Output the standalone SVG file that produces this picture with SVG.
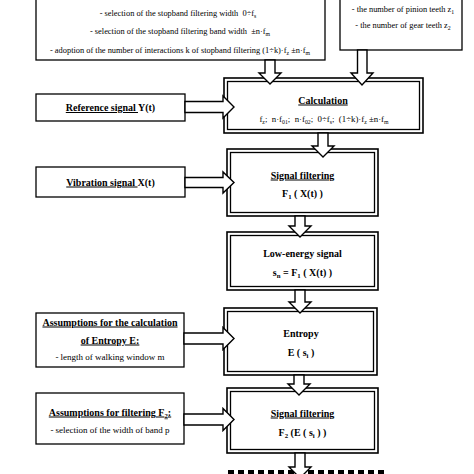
<svg xmlns="http://www.w3.org/2000/svg" width="474" height="474" viewBox="0 0 474 474">
<style>
  text { font-family: "Liberation Serif", "Times New Roman", serif; fill: #000; text-anchor: middle; }
  .b { font-weight: bold; font-size: 10px; }
  .r { font-size: 8.4px; }
  .r2 { font-size: 9px; }
  .f { font-size: 8.8px; }
  .u { text-decoration: underline; }
  .box { fill: #fff; stroke: #000; stroke-width: 1.3; }
  .outer { fill: #fff; stroke: #000; stroke-width: 1.6; }
  .inner { fill: none; stroke: #000; stroke-width: 1.3; }
  .arr { fill: #fff; stroke: #000; stroke-width: 1.4; stroke-linejoin: miter; }
  .dash { fill: none; stroke: #000; stroke-width: 4; stroke-dasharray: 6 4; }
  .s { font-size: 5.8px; }
  .sb { font-size: 6.8px; }
</style>
<rect x="0" y="0" width="474" height="474" fill="#fff"/>

<g id="assumptions-stopband">
  <rect class="box" x="36" y="-5" width="289" height="65"/>
  <text class="r" x="178" y="16">- selection of the stopband filtering width&#160;&#160;0÷f<tspan class="s" baseline-shift="-2">s</tspan></text>
  <text class="r" x="180" y="34">- selection of the stopband filtering band width&#160;&#160;±n·f<tspan class="s" baseline-shift="-2">m</tspan></text>
  <text class="r" x="180" y="53">- adoption of the number of interactions k of stopband filtering (1÷k)·f<tspan class="s" baseline-shift="-2">z</tspan> ±n·f<tspan class="s" baseline-shift="-2">m</tspan></text>
</g>

<g id="assumptions-teeth">
  <rect class="box" x="340" y="-5" width="122" height="55"/>
  <text class="r" x="403" y="12">- the number of pinion teeth z<tspan class="s" baseline-shift="-2">1</tspan></text>
  <text class="r" x="403" y="28">- the number of gear teeth z<tspan class="s" baseline-shift="-2">2</tspan></text>
</g>

<g id="reference-signal">
  <rect class="box" x="36" y="94" width="149" height="27"/>
  <text class="b" x="110.5" y="111"><tspan class="u">Reference signal </tspan>Y(t)</text>
</g>

<g id="vibration-signal">
  <rect class="box" x="36" y="167" width="149" height="30"/>
  <text class="b" x="110.5" y="185.5"><tspan class="u">Vibration signal </tspan>X(t)</text>
</g>

<g id="assumptions-entropy">
  <rect class="box" x="36" y="313" width="148" height="54"/>
  <text class="b u" x="110" y="325.5">Assumptions for the calculation</text>
  <text class="b u" x="110" y="343.5">of Entropy E:</text>
  <text class="r2" x="110" y="360">- length of walking window m</text>
</g>

<g id="assumptions-filtering">
  <rect class="box" x="36" y="393" width="148" height="51"/>
  <text class="b u" x="110" y="415.5">Assumptions for filtering F<tspan class="sb" baseline-shift="-2">2</tspan>:</text>
  <text class="r2" x="110" y="433">- selection of the width of band p</text>
</g>

<g id="calculation">
  <rect class="outer" x="224" y="78" width="199" height="55"/>
  <rect class="inner" x="227.5" y="81.5" width="192" height="48"/>
  <text class="b u" x="323" y="103.5">Calculation</text>
  <text class="f" x="324" y="121.5">f<tspan class="s" baseline-shift="-2">z</tspan>;&#160;&#160;n·f<tspan class="s" baseline-shift="-2">01</tspan>;&#160;&#160;n·f<tspan class="s" baseline-shift="-2">02</tspan>;&#160;&#160;0÷f<tspan class="s" baseline-shift="-2">s</tspan>;&#160;&#160;(1÷k)·f<tspan class="s" baseline-shift="-2">z</tspan> ±n·f<tspan class="s" baseline-shift="-2">m</tspan></text>
</g>

<g id="signal-filtering-1">
  <rect class="outer" x="227" y="149" width="151" height="67"/>
  <rect class="inner" x="230.5" y="152.5" width="144" height="60"/>
  <text class="b u" x="302.5" y="178.5">Signal filtering</text>
  <text class="b" x="302.5" y="196.5">F<tspan class="sb" baseline-shift="-2">1</tspan> ( X(t) )</text>
</g>

<g id="low-energy-signal">
  <rect class="outer" x="227" y="232" width="151" height="58"/>
  <rect class="inner" x="230.5" y="235.5" width="144" height="51"/>
  <text class="b" x="302.5" y="256.5">Low-energy signal</text>
  <text class="b" x="302.5" y="275.5">s<tspan class="sb" baseline-shift="-2">n</tspan> = F<tspan class="sb" baseline-shift="-2">1</tspan> ( X(t) )</text>
</g>

<g id="entropy">
  <rect class="outer" x="224" y="308" width="153" height="67"/>
  <rect class="inner" x="227.5" y="311.5" width="146" height="60"/>
  <text class="b" x="301" y="336.5">Entropy</text>
  <text class="b" x="301" y="355.5">E ( s<tspan class="sb" baseline-shift="-2">i</tspan> )</text>
</g>

<g id="signal-filtering-2">
  <rect class="outer" x="227" y="388" width="151" height="65"/>
  <rect class="inner" x="230.5" y="391.5" width="144" height="58"/>
  <text class="b u" x="302.5" y="416.5">Signal filtering</text>
  <text class="b" x="302.5" y="435.5">F<tspan class="sb" baseline-shift="-2">2</tspan> (E ( s<tspan class="sb" baseline-shift="-2">i</tspan> ) )</text>
</g>

<g id="output">
  <line class="dash" x1="228" y1="472" x2="384" y2="472"/>
</g>

<g id="connectors">
  <path class="arr" d="M265,60 L275,60 L275,73 L281,73 L270,84 L259,73 L265,73 Z"/>
  <path class="arr" d="M357.5,50 L367,50 L367,73 L373,73 L362,85 L351,73 L357.5,73 Z"/>
  <path class="arr" d="M185,101.5 L223,101.5 L223,96 L234,107 L223,118 L223,112.5 L185,112.5 Z"/>
  <path class="arr" d="M318,133 L328,133 L328,146 L334,146 L323,157 L312,146 L318,146 Z"/>
  <path class="arr" d="M185,177.5 L223,177.5 L223,172 L234,182.5 L223,193 L223,187.5 L185,187.5 Z"/>
  <path class="arr" d="M295,216 L305,216 L305,226 L311,226 L300,237 L289,226 L295,226 Z"/>
  <path class="arr" d="M295,290 L305,290 L305,302 L311,302 L300,313 L289,302 L295,302 Z"/>
  <path class="arr" d="M184,333 L223,333 L223,327.5 L234,338.5 L223,349.5 L223,344 L184,344 Z"/>
  <path class="arr" d="M294,375 L304,375 L304,384 L310,384 L299,395 L288,384 L294,384 Z"/>
  <path class="arr" d="M184,414 L223,414 L223,408.5 L234,419.5 L223,430.5 L223,425 L184,425 Z"/>
  <path class="arr" d="M295,453 L305,453 L305,467 L311,467 L300,478 L289,467 L295,467 Z"/>
</g>
</svg>
